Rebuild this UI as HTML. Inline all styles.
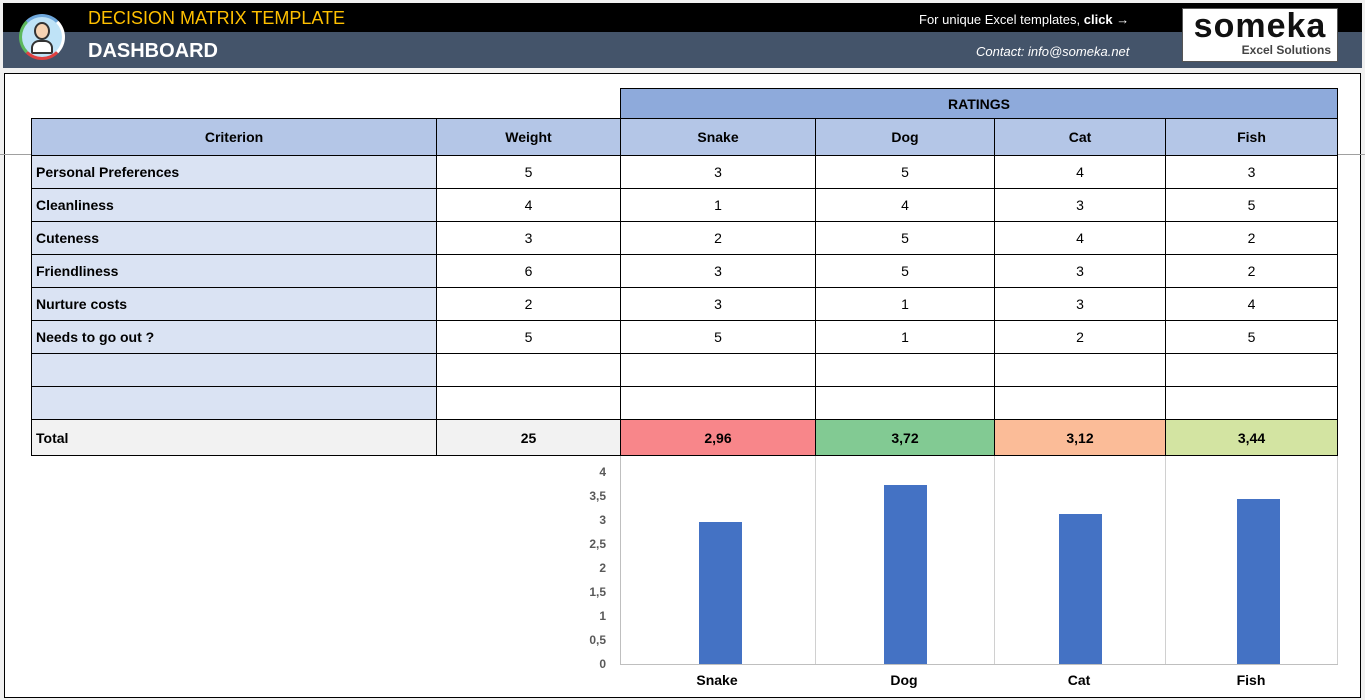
<!DOCTYPE html>
<html><head><meta charset="utf-8"><style>
*{margin:0;padding:0;box-sizing:border-box}
body{width:1365px;height:700px;background:#f0f0f0;position:relative;overflow:hidden;font-family:"Liberation Sans",sans-serif}
.a{position:absolute}
.c{position:absolute;display:flex;align-items:center;justify-content:center;font-size:14px;color:#000;border:1px solid #000}
.l{justify-content:flex-start;padding-left:4px;font-weight:bold;background:#dae3f3}
.b{font-weight:bold}
.yl{position:absolute;right:759px;font-size:12px;color:#595959;font-weight:bold;text-align:right}
</style></head><body>
<div class="a" style="left:3px;top:3px;width:1359px;height:29px;background:#000"></div>
<div class="a" style="left:3px;top:32px;width:1359px;height:36px;background:#44546a"></div>
<div class="a" style="left:19px;top:14px;width:46px;height:46px;border-radius:50%;border:3px solid;border-color:#6fa8dc #fff #e04040 #5cb85c;background:#bfe3f7"></div>
<div class="a" style="left:34px;top:22px;width:16px;height:18px;border-radius:50%;background:#f6d3b3;border:2px solid #333"></div>
<div class="a" style="left:31px;top:40px;width:22px;height:14px;border-radius:8px 8px 2px 2px;background:#fff;border:2px solid #333"></div>
<div class="a" style="left:88px;top:8px;font-size:18px;color:#ffc000">DECISION MATRIX TEMPLATE</div>
<div class="a" style="left:88px;top:40px;font-size:20px;color:#fff;font-weight:bold">DASHBOARD</div>
<div class="a" style="left:919px;top:12px;font-size:13px;color:#fff">For unique Excel templates, <b>click →</b></div>
<div class="a" style="left:976px;top:44px;font-size:13px;color:#fff;font-style:italic">Contact: info@someka.net</div>
<div class="a" style="left:1182px;top:8px;width:156px;height:54px;background:#fff;border:1px solid #555;text-align:center">
<div style="font-size:34px;line-height:34px;font-weight:bold;color:#111;letter-spacing:1px">someka</div>
<div style="font-size:12px;font-weight:bold;color:#444;text-align:right;padding-right:6px">Excel Solutions</div></div>
<div class="a" style="left:4px;top:73px;width:1357px;height:625px;background:#fff;border:1px solid #000"></div>
<div class="a" style="left:0;top:154px;width:1365px;height:1px;background:#a0a0a0"></div>

<div class="c b" style="left:620px;top:88px;width:718px;height:31px;background:#8eaadb">RATINGS</div>
<div class="c b" style="left:31px;top:118px;width:406px;height:38px;background:#b4c6e7">Criterion</div>
<div class="c b" style="left:436px;top:118px;width:185px;height:38px;background:#b4c6e7">Weight</div>
<div class="c b" style="left:620px;top:118px;width:196px;height:38px;background:#b4c6e7">Snake</div>
<div class="c b" style="left:815px;top:118px;width:180px;height:38px;background:#b4c6e7">Dog</div>
<div class="c b" style="left:994px;top:118px;width:172px;height:38px;background:#b4c6e7">Cat</div>
<div class="c b" style="left:1165px;top:118px;width:173px;height:38px;background:#b4c6e7">Fish</div>

<div id="rows"></div>
<script>
var d=[["Personal Preferences",5,3,5,4,3],["Cleanliness",4,1,4,3,5],["Cuteness",3,2,5,4,2],["Friendliness",6,3,5,3,2],["Nurture costs",2,3,1,3,4],["Needs to go out ?",5,5,1,2,5],["","","","","",""],["","","","","",""]];
var xs=[31,436,620,815,994,1165,1337],h="";
d.forEach(function(r,i){var y=155+i*33;for(var j=0;j<6;j++){h+='<div class="c'+(j==0?' l':'')+'" style="left:'+xs[j]+'px;top:'+y+'px;width:'+(xs[j+1]-xs[j]+1)+'px;height:34px">'+r[j]+'</div>';}});
var t=["Total","25","2,96","3,72","3,12","3,44"],bg=["#f2f2f2","#f2f2f2","#f8868a","#82ca93","#fbbc98","#d3e4a2"];
for(var j=0;j<6;j++){h+='<div class="c b" style="left:'+xs[j]+'px;top:419px;width:'+(xs[j+1]-xs[j]+1)+'px;height:37px;background:'+bg[j]+';'+(j==0?'justify-content:flex-start;padding-left:4px':'')+'">'+t[j]+'</div>';}
h+='<div class="a" style="left:620px;top:456px;width:1px;height:209px;background:#bfbfbf"></div>';
[815,994,1165,1337].forEach(function(x){h+='<div class="a" style="left:'+x+'px;top:456px;width:1px;height:209px;background:#d0d0d0"></div>';});
h+='<div class="a" style="left:620px;top:664px;width:718px;height:1px;background:#bfbfbf"></div>';
var yl=["0","0,5","1","1,5","2","2,5","3","3,5","4"];
yl.forEach(function(s,i){h+='<div class="yl" style="top:'+(657-i*24)+'px">'+s+'</div>';});
var bars=[[699,2.96,"Snake",717],[884,3.72,"Dog",904],[1059,3.12,"Cat",1079],[1237,3.44,"Fish",1251]];
bars.forEach(function(b){var hh=Math.round(b[1]*48);h+='<div class="a" style="left:'+b[0]+'px;top:'+(664-hh)+'px;width:43px;height:'+hh+'px;background:#4472c4"></div>';
h+='<div class="a b" style="left:'+(b[3]-50)+'px;width:100px;text-align:center;top:672px;font-size:14px">'+b[2]+'</div>';});
document.getElementById("rows").innerHTML=h;
</script>
</body></html>
